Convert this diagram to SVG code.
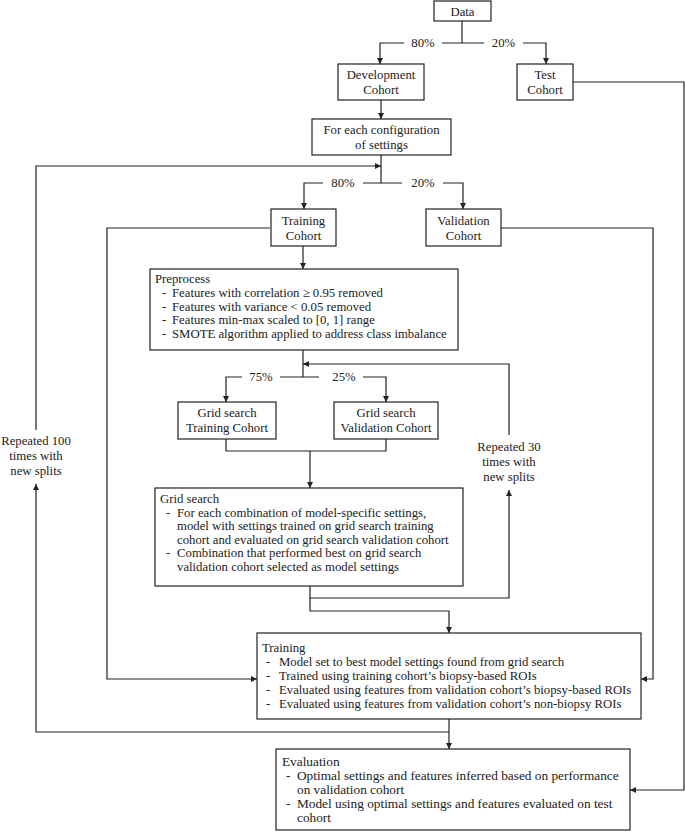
<svg xmlns="http://www.w3.org/2000/svg" width="685" height="833" viewBox="0 0 685 833" font-family="'Liberation Serif', 'Times New Roman', 'DejaVu Serif', serif" font-size="12.75">
<defs>
<marker id="ah" markerUnits="userSpaceOnUse" markerWidth="6" markerHeight="6" refX="6" refY="3" orient="auto">
<path d="M0,0 L6,3 L0,6 z" fill="#222"/>
</marker>
<style>
.box{fill:#fff;stroke:#222;stroke-width:1.2}
.ln{fill:none;stroke:#222;stroke-width:1.2}
.ar{fill:none;stroke:#222;stroke-width:1.2;marker-end:url(#ah)}
text{fill:#222}
.c{text-anchor:middle}
</style>
</defs>
<rect width="685" height="833" fill="#fff"/>

<g id="connectors">
<path class="ln" d="M462,21 V43"/>
<path class="ar" d="M404,43 H380 V64"/>
<path class="ln" d="M442,43 H484"/>
<path class="ar" d="M523,43 H546 V64"/>
<path class="ar" d="M381,100 V119"/>
<path class="ar" d="M573,82 H684 V790 H630"/>
<path class="ln" d="M381,155 V183"/>
<path class="ar" d="M323,183 H304 V209"/>
<path class="ln" d="M363,183 H402"/>
<path class="ar" d="M443,183 H463 V209"/>
<path class="ar" d="M36,430 V166 H381"/>
<path class="ar" d="M449,719 V749"/>
<path class="ar" d="M449,732 H36 V484"/>
<path class="ar" d="M303,246 V269"/>
<path class="ar" d="M270,228 H107 V679 H257"/>
<path class="ar" d="M501,228 H653 V679 H641"/>
<path class="ln" d="M303,350 V377"/>
<path class="ar" d="M242,377 H226 V402"/>
<path class="ln" d="M280,377 H319"/>
<path class="ar" d="M363,377 H386 V402"/>
<path class="ln" d="M226,439 V451 H386 V439"/>
<path class="ar" d="M310,451 V488"/>
<path class="ar" d="M310,586 V598 H509 V490"/>
<path class="ar" d="M509,435 V364 H303"/>
<path class="ar" d="M310,598 V611 H449 V633"/>
</g>

<g id="data">
<rect class="box" x="434" y="1" width="57" height="20"/>
<text class="c" x="462.5" y="16">Data</text>
</g>
<g id="split-labels">
<text class="c" x="423" y="47">80%</text>
<text class="c" x="503.5" y="47">20%</text>
<text class="c" x="343" y="187">80%</text>
<text class="c" x="423" y="187">20%</text>
<text class="c" x="261" y="381">75%</text>
<text class="c" x="344" y="381">25%</text>
</g>
<g id="development-cohort">
<rect class="box" x="338" y="64" width="86" height="36"/>
<text class="c" x="381" y="79">Development</text>
<text class="c" x="381" y="94">Cohort</text>
</g>
<g id="test-cohort">
<rect class="box" x="517" y="64" width="56" height="36"/>
<text class="c" x="545" y="79">Test</text>
<text class="c" x="545" y="94">Cohort</text>
</g>
<g id="configuration">
<rect class="box" x="312" y="119" width="139" height="36"/>
<text class="c" x="381.5" y="134">For each configuration</text>
<text class="c" x="381.5" y="149">of settings</text>
</g>
<g id="training-cohort">
<rect class="box" x="271" y="209" width="65" height="37"/>
<text class="c" x="303.5" y="225">Training</text>
<text class="c" x="303.5" y="240">Cohort</text>
</g>
<g id="validation-cohort">
<rect class="box" x="426" y="209" width="75" height="37"/>
<text class="c" x="463.5" y="225">Validation</text>
<text class="c" x="463.5" y="240">Cohort</text>
</g>
<g id="preprocess">
<rect class="box" x="150" y="269" width="308" height="81"/>
<text x="155" y="283">Preprocess</text>
<text x="162" y="297">-</text><text x="172" y="297">Features with correlation ≥ 0.95 removed</text>
<text x="162" y="310.5">-</text><text x="172" y="310.5">Features with variance &lt; 0.05 removed</text>
<text x="162" y="324">-</text><text x="172" y="324">Features min-max scaled to [0, 1] range</text>
<text x="162" y="337.5">-</text><text x="172" y="337.5">SMOTE algorithm applied to address class imbalance</text>
</g>
<g id="gs-training-cohort">
<rect class="box" x="178" y="402" width="98" height="37"/>
<text class="c" x="227" y="417">Grid search</text>
<text class="c" x="227" y="432">Training Cohort</text>
</g>
<g id="gs-validation-cohort">
<rect class="box" x="334" y="402" width="104" height="37"/>
<text class="c" x="386" y="417">Grid search</text>
<text class="c" x="386" y="432">Validation Cohort</text>
</g>
<g id="repeated-100">
<text class="c" x="36" y="445">Repeated 100</text>
<text class="c" x="36" y="460">times with</text>
<text class="c" x="36" y="475">new splits</text>
</g>
<g id="repeated-30">
<text class="c" x="509" y="451">Repeated 30</text>
<text class="c" x="509" y="466">times with</text>
<text class="c" x="509" y="481">new splits</text>
</g>
<g id="grid-search">
<rect class="box" x="155" y="488" width="308" height="98"/>
<text x="160" y="503">Grid search</text>
<text x="166" y="516.5">-</text><text x="177" y="516.5">For each combination of model-specific settings,</text>
<text x="177" y="530">model with settings trained on grid search training</text>
<text x="177" y="543.5">cohort and evaluated on grid search validation cohort</text>
<text x="166" y="557">-</text><text x="177" y="557">Combination that performed best on grid search</text>
<text x="177" y="570.5">validation cohort selected as model settings</text>
</g>
<g id="training">
<rect class="box" x="257" y="633" width="384" height="86"/>
<text x="262" y="652">Training</text>
<text x="266" y="666">-</text><text x="279" y="666">Model set to best model settings found from grid search</text>
<text x="266" y="680">-</text><text x="279" y="680">Trained using training cohort’s biopsy-based ROIs</text>
<text x="266" y="694">-</text><text x="279" y="694">Evaluated using features from validation cohort’s biopsy-based ROIs</text>
<text x="266" y="708">-</text><text x="279" y="708">Evaluated using features from validation cohort’s non-biopsy ROIs</text>
</g>
<g id="evaluation" font-size="13.3">
<rect class="box" x="276" y="749" width="354" height="81"/>
<text x="282" y="766">Evaluation</text>
<text x="286" y="780">-</text><text x="297" y="780">Optimal settings and features inferred based on performance</text>
<text x="297" y="794">on validation cohort</text>
<text x="286" y="808">-</text><text x="297" y="808">Model using optimal settings and features evaluated on test</text>
<text x="297" y="822">cohort</text>
</g>
</svg>
